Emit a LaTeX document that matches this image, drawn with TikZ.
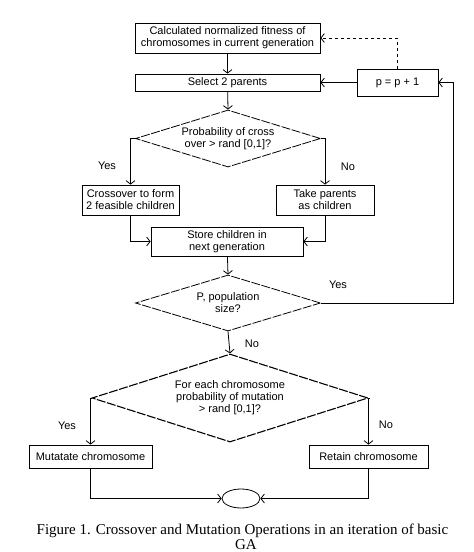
\documentclass[tikz,border=0pt]{standalone}
\usepackage{fontspec}
\setmainfont{Liberation Sans}
\newfontfamily\capfont{Liberation Serif}
\usetikzlibrary{arrows.meta,shapes.geometric}
\begin{document}
\begin{tikzpicture}[x=1pt,y=-1pt,
  font=\fontsize{11}{12}\selectfont,
  every path/.style={line width=0.8pt},
  >={Straight Barb[length=3.5pt,width=9pt]},
  box/.style={draw,rectangle,inner sep=0pt,align=center},
  dec/.style={draw,diamond,inner sep=0pt,align=center,dash pattern=on 9pt off 1.5pt},
  lbl/.style={inner sep=0pt},
  conn/.style={->}]
\useasboundingbox[fill=white] (0,0) rectangle (474,552);
\node[box,minimum width=185pt,minimum height=30pt] (fit) at (227.5,38) {Calculated normalized fitness of\\chromosomes in current generation};
\node[box,minimum width=185pt,minimum height=17pt] (sel) at (227.5,82.5) {Select 2 parents};
\node[box,minimum width=81pt,minimum height=27pt] (pp) at (397.5,82.5) {p = p + 1};
\node[dec,minimum width=185pt,minimum height=57pt,aspect=3.2] (d1) at (228,138.5) {Probability of cross\\over > rand [0,1]?};
\node[box,minimum width=97pt,minimum height=30pt] (cross) at (130.5,200) {Crossover to form\\2 feasible children};
\node[box,minimum width=98pt,minimum height=30pt] (take) at (325,200) {Take parents\\as children};
\node[box,minimum width=152pt,minimum height=29pt] (store) at (227,241.5) {Store children in\\next generation};
\node[dec,minimum width=185pt,minimum height=56pt,aspect=3.3] (d2) at (228,303) {P, population\\size?};
\node[dec,line width=1.1pt,minimum width=276pt,minimum height=88pt,aspect=3.1] (d3) at (230,398) {For each chromosome\\probability of mutation\\> rand [0,1]?};
\node[box,minimum width=123pt,minimum height=23pt] (mut) at (90.5,456.5) {Mutatate chromosome};
\node[box,minimum width=119pt,minimum height=23pt] (ret) at (368.5,456.5) {Retain chromosome};
\node[draw,ellipse,minimum width=38pt,minimum height=19pt,inner sep=0pt] (ell) at (241,498.5) {};
\coordinate (rc) at (453,303);
% connectors
\draw[conn] (fit) -- (sel);
\draw[conn] (sel) -- (d1.north);
\draw[conn] (d1.west) -| (cross.north);
\draw[conn] (d1.east) -| (take.north);
\draw[conn] (cross.south) |- (store.west);
\draw[conn] (take.south) |- (store.east);
\draw[conn] (store) -- (d2.north);
\draw[conn] (d2.south) -- (d3.north);
\draw[conn] (d2.east) -- (rc) |- (pp.east);
\draw[conn] (pp) -- (sel);
\draw[conn,dashed] (pp.north) |- (fit.east);
\draw[conn] (d3.west) -| (mut.north);
\draw[conn] (d3.east) -| (ret.north);
\draw[conn] (mut.south) |- (ell.west);
\draw[conn] (ret.south) |- (ell.east);
% labels
\node[lbl] (l1) at (107,166) {Yes};
\node[lbl] (l2) at (348,167) {No};
\node[lbl] (l3) at (338,285) {Yes};
\node[lbl] (l4) at (252,344) {No};
\node[lbl] (l5) at (67,426) {Yes};
\node[lbl] (l6) at (386,425) {No};
% caption
\node[lbl,font=\capfont\fontsize{15}{17}\selectfont] (cap1) at (242.5,531) {Figure 1. Crossover and Mutation Operations in an iteration of basic};
\node[lbl,font=\capfont\fontsize{15}{17}\selectfont] (cap2) at (246,545) {GA};
\end{tikzpicture}
\end{document}
